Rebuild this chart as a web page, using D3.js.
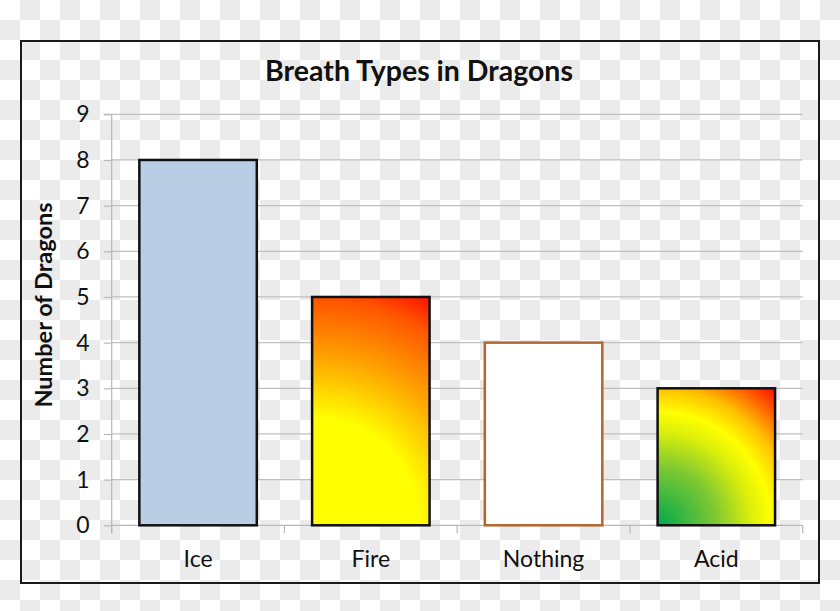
<!DOCTYPE html>
<html>
<head>
<meta charset="utf-8">
<script src="https://cdn.jsdelivr.net/npm/d3@7"></script>
<style>
  body { margin: 0; background: #fff; }
  text { font-family: Lato, "Open Sans", sans-serif; fill: #111; }
</style>
</head>
<body>
<div id="chart"></div>
<script>
// data
const categories = ["Ice", "Fire", "Nothing", "Acid"];
const dragonCounts = [8, 5, 4, 3];
const yTicks = [0, 1, 2, 3, 4, 5, 6, 7, 8, 9];

const W = 840, H = 611;

const svg = d3.select("#chart")
    .append("svg")
    .attr("width", W)
    .attr("height", H);

const defs = svg.append("defs");

// transparent-look checkerboard behind everything
const checker = defs.append("pattern")
    .attr("id", "checker")
    .attr("width", 40)
    .attr("height", 40)
    .attr("patternUnits", "userSpaceOnUse");
checker.append("rect").attr("width", 40).attr("height", 40).attr("fill", "#ffffff");
checker.append("rect").attr("x", 20).attr("width", 20).attr("height", 20).attr("fill", "#ebebeb");
checker.append("rect").attr("y", 20).attr("width", 20).attr("height", 20).attr("fill", "#ebebeb");

svg.append("rect")
    .attr("width", W)
    .attr("height", H)
    .attr("fill", "url(#checker)");

// chart frame
svg.append("rect")
    .attr("x", 21)
    .attr("y", 41)
    .attr("width", 798)
    .attr("height", 542)
    .attr("fill", "none")
    .attr("stroke", "#1a1a1a")
    .attr("stroke-width", 2);

// scales
const x = d3.scaleBand()
    .domain(categories)
    .range([111.7, 802.7])
    .paddingInner(0.32)
    .paddingOuter(0.16);

const y = d3.scaleLinear()
    .domain([0, 9])
    .range([525.3, 114.3]);

// gridlines
svg.append("g")
    .selectAll("line")
    .data(yTicks.slice(1))
    .enter()
    .append("line")
    .attr("x1", 111.7)
    .attr("x2", 802.7)
    .attr("y1", d => y(d))
    .attr("y2", d => y(d))
    .attr("stroke", "#c0c0c0")
    .attr("stroke-width", 1.2);

// y axis
const yAxis = svg.append("g")
    .attr("transform", "translate(111.7,0)")
    .call(d3.axisLeft(y).tickValues(yTicks).tickSize(8).tickPadding(14));
yAxis.selectAll("line, path").attr("stroke", "#b8b8b8").attr("stroke-width", 1.2);
yAxis.select(".domain").attr("d", `M-8,${y(9)}H0V${y(0) + 8}`);
yAxis.selectAll("text")
    .attr("font-size", 23)
    .attr("font-family", "Lato, sans-serif")
    .attr("fill", "#111");

// x axis with ticks between categories
const xAxis = svg.append("g")
    .attr("transform", `translate(0,${y(0)})`);
xAxis.append("line")
    .attr("x1", 111.7)
    .attr("x2", 802.7)
    .attr("stroke", "#b8b8b8")
    .attr("stroke-width", 1.2);
const bounds = categories.map(c => x(c) - x.step() * x.paddingOuter()).concat([802.7]);
xAxis.selectAll(".sep")
    .data(bounds)
    .enter()
    .append("line")
    .attr("class", "sep")
    .attr("x1", d => d)
    .attr("x2", d => d)
    .attr("y1", 0)
    .attr("y2", 8)
    .attr("stroke", "#b8b8b8")
    .attr("stroke-width", 1.2);
xAxis.selectAll(".cat")
    .data(categories)
    .enter()
    .append("text")
    .attr("class", "cat")
    .attr("x", d => x(d) + x.bandwidth() / 2)
    .attr("y", 41.5)
    .attr("text-anchor", "middle")
    .attr("font-size", 23)
    .text(d => d);

// radial fills anchored at each bar's bottom-left corner
const fills = {
    Ice: null,
    Fire: [[0, "#ffff00"], [0.42, "#ffff00"], [0.66, "#ffa200"], [0.88, "#ff5500"], [1, "#ff1000"]],
    Nothing: null,
    Acid: [[0, "#00a84e"], [0.32, "#7cc832"], [0.52, "#dcef0a"], [0.63, "#ffff00"], [0.76, "#ffc000"], [1, "#ff0a00"]]
};

categories.forEach((c, i) => {
    if (!fills[c]) return;
    const x0 = x(c), y0 = y(0);
    const r = Math.hypot(x.bandwidth(), y(0) - y(dragonCounts[i]));
    const g = defs.append("radialGradient")
        .attr("id", "grad-" + c)
        .attr("gradientUnits", "userSpaceOnUse")
        .attr("cx", x0).attr("cy", y0)
        .attr("fx", x0).attr("fy", y0)
        .attr("r", r);
    fills[c].forEach(s => g.append("stop").attr("offset", s[0]).attr("stop-color", s[1]));
});

const barFill = { Ice: "#b9cde4", Fire: "url(#grad-Fire)", Nothing: "#ffffff", Acid: "url(#grad-Acid)" };
const barStroke = { Ice: "#111", Fire: "#111", Nothing: "#b4652f", Acid: "#111" };

svg.append("g")
    .selectAll("rect")
    .data(categories.map((c, i) => ({ cat: c, value: dragonCounts[i] })))
    .enter()
    .append("rect")
    .attr("x", d => x(d.cat))
    .attr("y", d => y(d.value))
    .attr("width", x.bandwidth())
    .attr("height", d => y(0) - y(d.value))
    .attr("fill", d => barFill[d.cat])
    .attr("stroke", d => barStroke[d.cat])
    .attr("stroke-width", 2.5);

// title
svg.append("text")
    .attr("x", 419)
    .attr("y", 81)
    .attr("text-anchor", "middle")
    .attr("font-size", 28.5)
    .attr("font-weight", "bold")
    .text("Breath Types in Dragons");

// y label
svg.append("text")
    .attr("transform", "rotate(-90)")
    .attr("x", -305)
    .attr("y", 52)
    .attr("text-anchor", "middle")
    .attr("font-size", 23.5)
    .attr("font-weight", "bold")
    .text("Number of Dragons");
</script>
</body>
</html>
